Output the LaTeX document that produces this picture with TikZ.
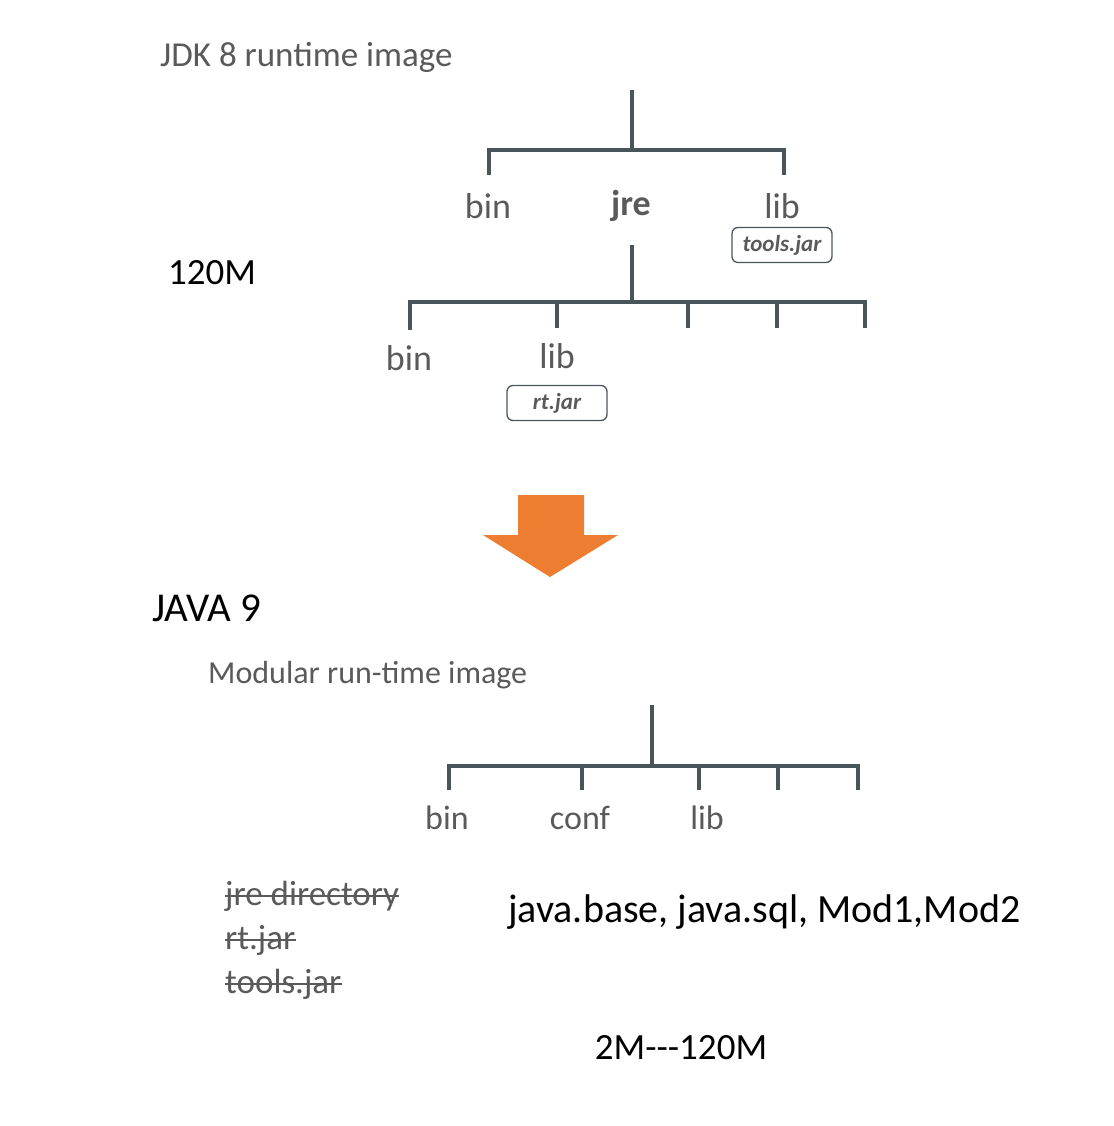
\documentclass[tikz,border=0pt]{standalone}
\usepackage{fontspec}
\setmainfont{Carlito}
\definecolor{ln}{RGB}{72,86,92}
\definecolor{gt}{RGB}{90,90,90}
\definecolor{org}{RGB}{237,125,49}
\begin{document}
\begin{tikzpicture}[x=1pt,y=-1pt,
  tr/.style={draw=ln,line width=3.5pt},
  lab/.style={text=gt,font=\fontsize{36}{40}\selectfont,inner sep=0pt},
  box/.style={draw=ln,line width=1.3pt,rounded corners=6pt,minimum width=100pt,minimum height=35pt,text=gt,font=\fontsize{23}{25}\selectfont\bfseries\itshape},
  big/.style={text=black,font=\fontsize{37}{40}\selectfont,inner sep=0pt},
  sm/.style={text=gt,font=\fontsize{35}{38}\selectfont,inner sep=0pt,anchor=west}]
\useasboundingbox (0,0) rectangle (1113,1126);
% top tree
\node[sm] (t1) at (160,57) {JDK 8 runtime image};
\node[big,anchor=west] (m1) at (168,273) {120M};
\coordinate (a0) at (632,90);
\coordinate (a1) at (632,150);
\draw[tr] (a0) -- (a1);
\draw[tr] (489,175) -- (489,150) -- (784,150) -- (784,175);
\node[lab] (bin1) at (488,206) {bin};
\node[lab,font=\fontsize{36}{40}\selectfont\bfseries] (jre) at (631,206) {jre};
\node[lab] (lib1) at (782,206) {lib};
\node[box] (tools) at (782,245) {tools.jar};
\coordinate (b0) at (632,245);
\coordinate (b1) at (632,302);
\draw[tr] (b0) -- (b1);
\draw[tr] (410,330) -- (410,302) -- (865,302) -- (865,328);
\foreach \x in {557,688,777} \draw[tr] (\x,302) -- (\x,328);
\node[lab] (bin2) at (409,358) {bin};
\node[lab] (lib2) at (557,356) {lib};
\node[box] (rt) at (557,403) {rt.jar};
% arrow
\fill[org] (518,495) -- (584,495) -- (584,535) -- (618,535) -- (550,577) -- (483,535) -- (518,535) -- cycle;
\node[big,anchor=west,font=\fontsize{41}{44}\selectfont] (j9) at (152,608) {JAVA 9};
\node[sm,font=\fontsize{32}{35}\selectfont] (mod) at (208,675) {Modular run-time image};
% bottom tree
\coordinate (c0) at (652,705);
\coordinate (c1) at (652,766);
\draw[tr] (c0) -- (c1);
\draw[tr] (449,790) -- (449,766) -- (858,766) -- (858,790);
\foreach \x in {582,699,778} \draw[tr] (\x,766) -- (\x,790);
\node[lab,font=\fontsize{34}{37}\selectfont] (bin3) at (447,818) {bin};
\node[lab,font=\fontsize{34}{37}\selectfont] (conf) at (580,818) {conf};
\node[lab,font=\fontsize{34}{37}\selectfont] (lib3) at (707,818) {lib};
\node[sm] (s1) at (225,896) {jre directory};
\node[sm] (s2) at (225,940) {rt.jar};
\node[sm] (s3) at (225,984) {tools.jar};
\foreach \n in {s1,s2,s3} \draw[gt,line width=1.5pt] (\n.west) -- (\n.east);
\node[big,anchor=west,font=\fontsize{40}{43}\selectfont] (mods) at (508,912) {java.base, java.sql, Mod1,Mod2};
\node[big] (sz) at (681,1048) {2M{-}{-}{-}120M};
\end{tikzpicture}
\end{document}
